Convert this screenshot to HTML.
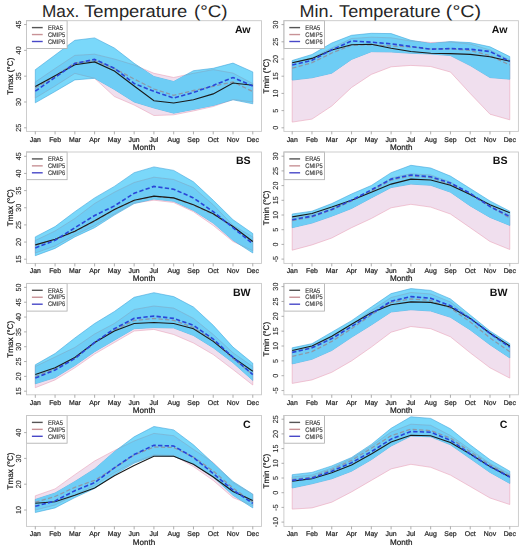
<!DOCTYPE html>
<html><head><meta charset="utf-8"><title>Temperature</title>
<style>
html,body{margin:0;padding:0;background:#fff;}
body{width:523px;height:550px;overflow:hidden;position:relative;}
svg{display:block;position:absolute;left:0;top:0;}
#m{filter:blur(0.35px);}
text{font-family:"Liberation Sans",sans-serif;text-rendering:geometricPrecision;}
.lg{font-size:6.6px;fill:#3a3a3a;stroke:#3a3a3a;stroke-width:0.15px;}
.rl{font-size:10.6px;font-weight:bold;fill:#111;}
.mo{font-size:6.9px;fill:#262626;stroke:#262626;stroke-width:0.22px;}
.ax{font-size:8.1px;fill:#161616;stroke:#161616;stroke-width:0.2px;}
.ax2{font-size:8.1px;fill:#161616;stroke:#161616;stroke-width:0.2px;}
.tk{font-size:7.3px;fill:#2a2a2a;stroke:#2a2a2a;stroke-width:0.1px;}
.ti{font-size:17px;fill:#262626;}
</style></head><body>
<svg id="m" width="523" height="550" viewBox="0 0 523 550">
<defs>
<clipPath id="p00b"><polygon points="35.3,69.7 55.07,55 74.84,40.3 94.61,37.9 114.38,48 134.15,63.3 153.92,76.5 173.69,81.5 193.46,70.7 213.23,68.3 233,63.1 252.77,71.9 252.77,103.8 233,99.8 213.23,105.4 193.46,109.4 173.69,113.2 153.92,108 134.15,102 114.38,89.5 94.61,78.3 74.84,79.9 55.07,91.5 35.3,102.8"/></clipPath>
<clipPath id="p00a"><rect x="26.5" y="20.7" width="235" height="110.7"/></clipPath>
<clipPath id="p01b"><polygon points="292.2,60.5 311.98,54.5 331.76,43 351.54,35.3 371.32,33.3 391.1,33.6 410.88,40.3 430.66,43.5 450.44,41.6 470.22,42.6 490,46.8 509.78,56.6 509.78,79.2 490,77.6 470.22,65.6 450.44,55.6 430.66,54 410.88,53.3 391.1,52 371.32,51.7 351.54,59.4 331.76,73.2 311.98,77.8 292.2,80.1"/></clipPath>
<clipPath id="p01a"><rect x="283.9" y="20.7" width="234.5" height="110.7"/></clipPath>
<clipPath id="p10b"><polygon points="35.3,236.9 55.07,226.6 74.84,211.7 94.61,197.9 114.38,186.4 134.15,172.7 153.92,166.9 173.69,170.4 193.46,181.8 213.23,200.2 233,219.7 252.77,233.5 252.77,253 233,240.3 213.23,223.1 193.46,210.5 173.69,201.3 153.92,199 134.15,203.6 114.38,215.1 94.61,227.7 74.84,236.9 55.07,248.4 35.3,255.7"/></clipPath>
<clipPath id="p10a"><rect x="26.5" y="152" width="235" height="111.4"/></clipPath>
<clipPath id="p11b"><polygon points="292.2,214 311.98,211.2 331.76,203.6 351.54,194 371.32,185.5 391.1,172.7 410.88,165.3 430.66,168 450.44,176.1 470.22,188.5 490,201 509.78,211.2 509.78,225.4 490,217.4 470.22,205.9 450.44,192.2 430.66,185.3 410.88,184.1 391.1,187.6 371.32,197.9 351.54,208.5 331.76,216.2 311.98,223.1 292.2,227.7"/></clipPath>
<clipPath id="p11a"><rect x="283.9" y="152" width="234.5" height="111.4"/></clipPath>
<clipPath id="p20b"><polygon points="35.3,364.8 55.07,353.5 74.84,338 94.61,323.5 114.38,311.5 134.15,297.3 153.92,292.7 173.69,296.6 193.46,307 213.23,325.3 233,347.1 252.77,363.2 252.77,380.4 233,362.7 213.23,347.8 193.46,335.5 173.69,328 153.92,327.6 134.15,328.7 114.38,340.2 94.61,351.7 74.84,365.5 55.07,377.6 35.3,383.8"/></clipPath>
<clipPath id="p20a"><rect x="26.5" y="283.4" width="235" height="111.4"/></clipPath>
<clipPath id="p21b"><polygon points="292.2,347.8 311.98,343.7 331.76,332.2 351.54,320.7 371.32,307 391.1,293.6 410.88,288.6 430.66,290.4 450.44,298.9 470.22,315 490,331 509.78,343.7 509.78,357.9 490,344.8 470.22,329.9 450.44,317.3 430.66,311 410.88,309.8 391.1,312 371.32,325 351.54,337.3 331.76,350.5 311.98,359.3 292.2,363.9"/></clipPath>
<clipPath id="p21a"><rect x="283.9" y="283.4" width="234.5" height="111.4"/></clipPath>
<clipPath id="p30b"><polygon points="35.3,499.4 55.07,493 74.84,481.5 94.61,468.9 114.38,451.7 134.15,436.8 153.92,426.5 173.69,429.9 193.46,444.8 213.23,463.2 233,481.5 252.77,494.2 252.77,507.9 233,495.3 213.23,477 193.46,464.3 173.69,456.3 153.92,455.8 134.15,463.2 114.38,474.7 94.61,488.4 74.84,497.6 55.07,507.9 35.3,512.5"/></clipPath>
<clipPath id="p30a"><rect x="26.5" y="415.5" width="235" height="110.9"/></clipPath>
<clipPath id="p31b"><polygon points="292.2,474.7 311.98,472.4 331.76,465.9 351.54,457.5 371.32,444.4 391.1,428.3 410.88,416.8 430.66,418.4 450.44,428.8 470.22,444.8 490,459.7 509.78,471.2 509.78,483.4 490,472.4 470.22,458.6 450.44,444.8 430.66,436.8 410.88,436.1 391.1,446 371.32,459.7 351.54,471.2 331.76,478.8 311.98,483.8 292.2,488"/></clipPath>
<clipPath id="p31a"><rect x="283.9" y="415.5" width="234.5" height="110.9"/></clipPath>
</defs>
<rect width="523" height="550" fill="#fff"/>
<g clip-path="url(#p00a)">
<polygon points="35.3,82 55.07,68.5 74.84,55.4 94.61,54.2 114.38,59 134.15,65 153.92,73.3 173.69,77.5 193.46,73.3 213.23,69.6 233,73.1 252.77,83.6 252.77,102 233,99.5 213.23,106.5 193.46,110.9 173.69,114.8 153.92,115.5 134.15,105 114.38,96.5 94.61,78.3 74.84,73.4 55.07,86 35.3,98" fill="#f0dfee" stroke="#eaa4ba" stroke-width="0.6"/>
<polygon points="35.3,69.7 55.07,55 74.84,40.3 94.61,37.9 114.38,48 134.15,63.3 153.92,76.5 173.69,81.5 193.46,70.7 213.23,68.3 233,63.1 252.77,71.9 252.77,103.8 233,99.8 213.23,105.4 193.46,109.4 173.69,113.2 153.92,108 134.15,102 114.38,89.5 94.61,78.3 74.84,79.9 55.07,91.5 35.3,102.8" fill="#7ad8fa" stroke="#45a6dc" stroke-width="0.6"/>
<polygon points="35.3,82 55.07,68.5 74.84,55.4 94.61,54.2 114.38,59 134.15,65 153.92,73.3 173.69,77.5 193.46,73.3 213.23,69.6 233,73.1 252.77,83.6 252.77,102 233,99.5 213.23,106.5 193.46,110.9 173.69,114.8 153.92,115.5 134.15,105 114.38,96.5 94.61,78.3 74.84,73.4 55.07,86 35.3,98" fill="#6ecdf5" stroke="#80aac6" stroke-width="0.6" clip-path="url(#p00b)"/>
<polyline points="35.3,88 55.07,76 74.84,63 94.61,60.5 114.38,68.5 134.15,79 153.92,89 173.69,95.4 193.46,90.5 213.23,86.3 233,81.9 252.77,91.6" fill="none" stroke="#8c98a8" stroke-width="1.3" stroke-dasharray="4.3 2.3"/>
<polyline points="35.3,86.4 55.07,75.8 74.84,64.8 94.61,61.9 114.38,71 134.15,86 153.92,100.7 173.69,103 193.46,99.7 213.23,93.9 233,83 252.77,85.3" fill="none" stroke="#1a1a1a" stroke-width="1.1"/>
<polyline points="35.3,91.2 55.07,77.4 74.84,63.5 94.61,59.4 114.38,68.2 134.15,83.5 153.92,91.4 173.69,98 193.46,92.5 213.23,85.4 233,77.5 252.77,86" fill="none" stroke="#2a46d8" stroke-width="1.6" stroke-dasharray="4.3 2.3"/>
</g>
<rect x="26.5" y="20.7" width="40.6" height="27.7" fill="#fff" stroke="#ababab" stroke-width="0.8"/>
<line x1="31.9" y1="27.6" x2="42.7" y2="27.6" stroke="#555" stroke-width="1.4"/>
<text x="47.9" y="29.8" class="lg" textLength="15.0" lengthAdjust="spacingAndGlyphs">ERA5</text>
<line x1="31.9" y1="34.55" x2="42.7" y2="34.55" stroke="#c89296" stroke-width="1.4"/>
<text x="47.9" y="36.75" class="lg" textLength="17.3" lengthAdjust="spacingAndGlyphs">CMIP5</text>
<line x1="31.9" y1="41.5" x2="42.7" y2="41.5" stroke="#4848c8" stroke-width="1.4"/>
<text x="47.9" y="43.7" class="lg" textLength="17.3" lengthAdjust="spacingAndGlyphs">CMIP6</text>
<rect x="26.5" y="20.7" width="235" height="110.7" fill="none" stroke="#c8c8c8" stroke-width="0.9"/>
<text x="250.6" y="32.8" class="rl" text-anchor="end">Aw</text>
<line x1="35.3" y1="131.4" x2="35.3" y2="134.4" stroke="#999999" stroke-width="0.8"/>
<text x="35.3" y="141.7" class="mo" text-anchor="middle">Jan</text>
<line x1="55.07" y1="131.4" x2="55.07" y2="134.4" stroke="#999999" stroke-width="0.8"/>
<text x="55.07" y="141.7" class="mo" text-anchor="middle">Feb</text>
<line x1="74.84" y1="131.4" x2="74.84" y2="134.4" stroke="#999999" stroke-width="0.8"/>
<text x="74.84" y="141.7" class="mo" text-anchor="middle">Mar</text>
<line x1="94.61" y1="131.4" x2="94.61" y2="134.4" stroke="#999999" stroke-width="0.8"/>
<text x="94.61" y="141.7" class="mo" text-anchor="middle">Apr</text>
<line x1="114.38" y1="131.4" x2="114.38" y2="134.4" stroke="#999999" stroke-width="0.8"/>
<text x="114.38" y="141.7" class="mo" text-anchor="middle">May</text>
<line x1="134.15" y1="131.4" x2="134.15" y2="134.4" stroke="#999999" stroke-width="0.8"/>
<text x="134.15" y="141.7" class="mo" text-anchor="middle">Jun</text>
<line x1="153.92" y1="131.4" x2="153.92" y2="134.4" stroke="#999999" stroke-width="0.8"/>
<text x="153.92" y="141.7" class="mo" text-anchor="middle">Jul</text>
<line x1="173.69" y1="131.4" x2="173.69" y2="134.4" stroke="#999999" stroke-width="0.8"/>
<text x="173.69" y="141.7" class="mo" text-anchor="middle">Aug</text>
<line x1="193.46" y1="131.4" x2="193.46" y2="134.4" stroke="#999999" stroke-width="0.8"/>
<text x="193.46" y="141.7" class="mo" text-anchor="middle">Sep</text>
<line x1="213.23" y1="131.4" x2="213.23" y2="134.4" stroke="#999999" stroke-width="0.8"/>
<text x="213.23" y="141.7" class="mo" text-anchor="middle">Oct</text>
<line x1="233" y1="131.4" x2="233" y2="134.4" stroke="#999999" stroke-width="0.8"/>
<text x="233" y="141.7" class="mo" text-anchor="middle">Nov</text>
<line x1="252.77" y1="131.4" x2="252.77" y2="134.4" stroke="#999999" stroke-width="0.8"/>
<text x="252.77" y="141.7" class="mo" text-anchor="middle">Dec</text>
<text x="144" y="149.6" class="ax" text-anchor="middle">Month</text>
<line x1="24.1" y1="127.8" x2="26.5" y2="127.8" stroke="#999999" stroke-width="0.8"/>
<text transform="translate(20.7,127.8) rotate(-90)" class="tk" text-anchor="middle">25</text>
<line x1="24.1" y1="101.99" x2="26.5" y2="101.99" stroke="#999999" stroke-width="0.8"/>
<text transform="translate(20.7,101.99) rotate(-90)" class="tk" text-anchor="middle">30</text>
<line x1="24.1" y1="76.17" x2="26.5" y2="76.17" stroke="#999999" stroke-width="0.8"/>
<text transform="translate(20.7,76.17) rotate(-90)" class="tk" text-anchor="middle">35</text>
<line x1="24.1" y1="50.36" x2="26.5" y2="50.36" stroke="#999999" stroke-width="0.8"/>
<text transform="translate(20.7,50.36) rotate(-90)" class="tk" text-anchor="middle">40</text>
<line x1="24.1" y1="24.55" x2="26.5" y2="24.55" stroke="#999999" stroke-width="0.8"/>
<text transform="translate(20.7,24.55) rotate(-90)" class="tk" text-anchor="middle">45</text>
<text transform="translate(12.6,76.15) rotate(-90)" class="ax2" text-anchor="middle">Tmax (°C)</text>
<g clip-path="url(#p01a)">
<polygon points="292.2,63 311.98,58 331.76,48 351.54,38.5 371.32,37.2 391.1,37.8 410.88,41 430.66,42.5 450.44,42 470.22,44 490,50 509.78,60 509.78,119.8 490,114.2 470.22,93.5 450.44,72 430.66,66.5 410.88,65.4 391.1,66.8 371.32,74.4 351.54,87.5 331.76,106 311.98,119.1 292.2,122.1" fill="#f0dfee" stroke="#eaa4ba" stroke-width="0.6"/>
<polygon points="292.2,60.5 311.98,54.5 331.76,43 351.54,35.3 371.32,33.3 391.1,33.6 410.88,40.3 430.66,43.5 450.44,41.6 470.22,42.6 490,46.8 509.78,56.6 509.78,79.2 490,77.6 470.22,65.6 450.44,55.6 430.66,54 410.88,53.3 391.1,52 371.32,51.7 351.54,59.4 331.76,73.2 311.98,77.8 292.2,80.1" fill="#7ad8fa" stroke="#45a6dc" stroke-width="0.6"/>
<polygon points="292.2,63 311.98,58 331.76,48 351.54,38.5 371.32,37.2 391.1,37.8 410.88,41 430.66,42.5 450.44,42 470.22,44 490,50 509.78,60 509.78,119.8 490,114.2 470.22,93.5 450.44,72 430.66,66.5 410.88,65.4 391.1,66.8 371.32,74.4 351.54,87.5 331.76,106 311.98,119.1 292.2,122.1" fill="#6ecdf5" stroke="#80aac6" stroke-width="0.6" clip-path="url(#p01b)"/>
<polyline points="292.2,68.2 311.98,62.7 331.76,53 351.54,45.2 371.32,44.8 391.1,46 410.88,47 430.66,49 450.44,48.7 470.22,50.5 490,55.6 509.78,65" fill="none" stroke="#8c98a8" stroke-width="1.3" stroke-dasharray="4.3 2.3"/>
<polyline points="292.2,62.7 311.98,58.4 331.76,50 351.54,44.7 371.32,44.3 391.1,48.3 410.88,51.5 430.66,53.3 450.44,53.6 470.22,54.4 490,56.7 509.78,61.3" fill="none" stroke="#1a1a1a" stroke-width="1.1"/>
<polyline points="292.2,65 311.98,60.3 331.76,49.8 351.54,40.9 371.32,42.2 391.1,43.8 410.88,46.5 430.66,49.2 450.44,48.6 470.22,49.2 490,51.5 509.78,61.3" fill="none" stroke="#2a46d8" stroke-width="1.6" stroke-dasharray="4.3 2.3"/>
</g>
<rect x="283.9" y="20.7" width="40.6" height="27.7" fill="#fff" stroke="#ababab" stroke-width="0.8"/>
<line x1="289.3" y1="27.6" x2="300.1" y2="27.6" stroke="#555" stroke-width="1.4"/>
<text x="305.3" y="29.8" class="lg" textLength="15.0" lengthAdjust="spacingAndGlyphs">ERA5</text>
<line x1="289.3" y1="34.55" x2="300.1" y2="34.55" stroke="#c89296" stroke-width="1.4"/>
<text x="305.3" y="36.75" class="lg" textLength="17.3" lengthAdjust="spacingAndGlyphs">CMIP5</text>
<line x1="289.3" y1="41.5" x2="300.1" y2="41.5" stroke="#4848c8" stroke-width="1.4"/>
<text x="305.3" y="43.7" class="lg" textLength="17.3" lengthAdjust="spacingAndGlyphs">CMIP6</text>
<rect x="283.9" y="20.7" width="234.5" height="110.7" fill="none" stroke="#c8c8c8" stroke-width="0.9"/>
<text x="507.5" y="32.8" class="rl" text-anchor="end">Aw</text>
<line x1="292.2" y1="131.4" x2="292.2" y2="134.4" stroke="#999999" stroke-width="0.8"/>
<text x="292.2" y="141.7" class="mo" text-anchor="middle">Jan</text>
<line x1="311.98" y1="131.4" x2="311.98" y2="134.4" stroke="#999999" stroke-width="0.8"/>
<text x="311.98" y="141.7" class="mo" text-anchor="middle">Feb</text>
<line x1="331.76" y1="131.4" x2="331.76" y2="134.4" stroke="#999999" stroke-width="0.8"/>
<text x="331.76" y="141.7" class="mo" text-anchor="middle">Mar</text>
<line x1="351.54" y1="131.4" x2="351.54" y2="134.4" stroke="#999999" stroke-width="0.8"/>
<text x="351.54" y="141.7" class="mo" text-anchor="middle">Apr</text>
<line x1="371.32" y1="131.4" x2="371.32" y2="134.4" stroke="#999999" stroke-width="0.8"/>
<text x="371.32" y="141.7" class="mo" text-anchor="middle">May</text>
<line x1="391.1" y1="131.4" x2="391.1" y2="134.4" stroke="#999999" stroke-width="0.8"/>
<text x="391.1" y="141.7" class="mo" text-anchor="middle">Jun</text>
<line x1="410.88" y1="131.4" x2="410.88" y2="134.4" stroke="#999999" stroke-width="0.8"/>
<text x="410.88" y="141.7" class="mo" text-anchor="middle">Jul</text>
<line x1="430.66" y1="131.4" x2="430.66" y2="134.4" stroke="#999999" stroke-width="0.8"/>
<text x="430.66" y="141.7" class="mo" text-anchor="middle">Aug</text>
<line x1="450.44" y1="131.4" x2="450.44" y2="134.4" stroke="#999999" stroke-width="0.8"/>
<text x="450.44" y="141.7" class="mo" text-anchor="middle">Sep</text>
<line x1="470.22" y1="131.4" x2="470.22" y2="134.4" stroke="#999999" stroke-width="0.8"/>
<text x="470.22" y="141.7" class="mo" text-anchor="middle">Oct</text>
<line x1="490" y1="131.4" x2="490" y2="134.4" stroke="#999999" stroke-width="0.8"/>
<text x="490" y="141.7" class="mo" text-anchor="middle">Nov</text>
<line x1="509.78" y1="131.4" x2="509.78" y2="134.4" stroke="#999999" stroke-width="0.8"/>
<text x="509.78" y="141.7" class="mo" text-anchor="middle">Dec</text>
<text x="401.15" y="149.6" class="ax" text-anchor="middle">Month</text>
<line x1="281.5" y1="127.8" x2="283.9" y2="127.8" stroke="#999999" stroke-width="0.8"/>
<text transform="translate(278.1,127.8) rotate(-90)" class="tk" text-anchor="middle">0</text>
<line x1="281.5" y1="110.6" x2="283.9" y2="110.6" stroke="#999999" stroke-width="0.8"/>
<text transform="translate(278.1,110.6) rotate(-90)" class="tk" text-anchor="middle">5</text>
<line x1="281.5" y1="93.4" x2="283.9" y2="93.4" stroke="#999999" stroke-width="0.8"/>
<text transform="translate(278.1,93.4) rotate(-90)" class="tk" text-anchor="middle">10</text>
<line x1="281.5" y1="76.2" x2="283.9" y2="76.2" stroke="#999999" stroke-width="0.8"/>
<text transform="translate(278.1,76.2) rotate(-90)" class="tk" text-anchor="middle">15</text>
<line x1="281.5" y1="59" x2="283.9" y2="59" stroke="#999999" stroke-width="0.8"/>
<text transform="translate(278.1,59) rotate(-90)" class="tk" text-anchor="middle">20</text>
<line x1="281.5" y1="41.8" x2="283.9" y2="41.8" stroke="#999999" stroke-width="0.8"/>
<text transform="translate(278.1,41.8) rotate(-90)" class="tk" text-anchor="middle">25</text>
<line x1="281.5" y1="24.6" x2="283.9" y2="24.6" stroke="#999999" stroke-width="0.8"/>
<text transform="translate(278.1,24.6) rotate(-90)" class="tk" text-anchor="middle">30</text>
<text transform="translate(269.1,76.15) rotate(-90)" class="ax2" text-anchor="middle">Tmin (°C)</text>
<g clip-path="url(#p10a)">
<polygon points="35.3,240.5 55.07,231 74.84,218.5 94.61,203.5 114.38,192.2 134.15,182.5 153.92,177.2 173.69,179.5 193.46,187.6 213.23,204.8 233,225.4 252.77,236.9 252.77,250.7 233,241.5 213.23,225.4 193.46,211.7 173.69,202.5 153.92,200.2 134.15,203 114.38,214 94.61,225.5 74.84,235 55.07,246 35.3,253" fill="#f0dfee" stroke="#eaa4ba" stroke-width="0.6"/>
<polygon points="35.3,236.9 55.07,226.6 74.84,211.7 94.61,197.9 114.38,186.4 134.15,172.7 153.92,166.9 173.69,170.4 193.46,181.8 213.23,200.2 233,219.7 252.77,233.5 252.77,253 233,240.3 213.23,223.1 193.46,210.5 173.69,201.3 153.92,199 134.15,203.6 114.38,215.1 94.61,227.7 74.84,236.9 55.07,248.4 35.3,255.7" fill="#7ad8fa" stroke="#45a6dc" stroke-width="0.6"/>
<polygon points="35.3,240.5 55.07,231 74.84,218.5 94.61,203.5 114.38,192.2 134.15,182.5 153.92,177.2 173.69,179.5 193.46,187.6 213.23,204.8 233,225.4 252.77,236.9 252.77,250.7 233,241.5 213.23,225.4 193.46,211.7 173.69,202.5 153.92,200.2 134.15,203 114.38,214 94.61,225.5 74.84,235 55.07,246 35.3,253" fill="#6ecdf5" stroke="#80aac6" stroke-width="0.6" clip-path="url(#p10b)"/>
<polyline points="35.3,245.2 55.07,239.5 74.84,231.5 94.61,221.1 114.38,209.7 134.15,200.5 153.92,196.4 173.69,198.2 193.46,205.1 213.23,214.1 233,226.8 252.77,241.8" fill="none" stroke="#8c98a8" stroke-width="1.3" stroke-dasharray="4.3 2.3"/>
<polyline points="35.3,244.9 55.07,239.2 74.84,231.2 94.61,220.8 114.38,209.4 134.15,200.2 153.92,196.1 173.69,197.9 193.46,204.8 213.23,213.8 233,226.5 252.77,241.5" fill="none" stroke="#1a1a1a" stroke-width="1.1"/>
<polyline points="35.3,247.9 55.07,240.3 74.84,227.8 94.61,215.5 114.38,205.9 134.15,193.3 153.92,186.4 173.69,189.2 193.46,197.9 213.23,211.7 233,227.7 252.77,243.8" fill="none" stroke="#2a46d8" stroke-width="1.6" stroke-dasharray="4.3 2.3"/>
</g>
<rect x="26.5" y="152" width="40.6" height="27.7" fill="#fff" stroke="#ababab" stroke-width="0.8"/>
<line x1="31.9" y1="158.9" x2="42.7" y2="158.9" stroke="#555" stroke-width="1.4"/>
<text x="47.9" y="161.1" class="lg" textLength="15.0" lengthAdjust="spacingAndGlyphs">ERA5</text>
<line x1="31.9" y1="165.85" x2="42.7" y2="165.85" stroke="#c89296" stroke-width="1.4"/>
<text x="47.9" y="168.05" class="lg" textLength="17.3" lengthAdjust="spacingAndGlyphs">CMIP5</text>
<line x1="31.9" y1="172.8" x2="42.7" y2="172.8" stroke="#4848c8" stroke-width="1.4"/>
<text x="47.9" y="175" class="lg" textLength="17.3" lengthAdjust="spacingAndGlyphs">CMIP6</text>
<rect x="26.5" y="152" width="235" height="111.4" fill="none" stroke="#c8c8c8" stroke-width="0.9"/>
<text x="250.6" y="164.1" class="rl" text-anchor="end">BS</text>
<line x1="35.3" y1="263.4" x2="35.3" y2="266.4" stroke="#999999" stroke-width="0.8"/>
<text x="35.3" y="272.9" class="mo" text-anchor="middle">Jan</text>
<line x1="55.07" y1="263.4" x2="55.07" y2="266.4" stroke="#999999" stroke-width="0.8"/>
<text x="55.07" y="272.9" class="mo" text-anchor="middle">Feb</text>
<line x1="74.84" y1="263.4" x2="74.84" y2="266.4" stroke="#999999" stroke-width="0.8"/>
<text x="74.84" y="272.9" class="mo" text-anchor="middle">Mar</text>
<line x1="94.61" y1="263.4" x2="94.61" y2="266.4" stroke="#999999" stroke-width="0.8"/>
<text x="94.61" y="272.9" class="mo" text-anchor="middle">Apr</text>
<line x1="114.38" y1="263.4" x2="114.38" y2="266.4" stroke="#999999" stroke-width="0.8"/>
<text x="114.38" y="272.9" class="mo" text-anchor="middle">May</text>
<line x1="134.15" y1="263.4" x2="134.15" y2="266.4" stroke="#999999" stroke-width="0.8"/>
<text x="134.15" y="272.9" class="mo" text-anchor="middle">Jun</text>
<line x1="153.92" y1="263.4" x2="153.92" y2="266.4" stroke="#999999" stroke-width="0.8"/>
<text x="153.92" y="272.9" class="mo" text-anchor="middle">Jul</text>
<line x1="173.69" y1="263.4" x2="173.69" y2="266.4" stroke="#999999" stroke-width="0.8"/>
<text x="173.69" y="272.9" class="mo" text-anchor="middle">Aug</text>
<line x1="193.46" y1="263.4" x2="193.46" y2="266.4" stroke="#999999" stroke-width="0.8"/>
<text x="193.46" y="272.9" class="mo" text-anchor="middle">Sep</text>
<line x1="213.23" y1="263.4" x2="213.23" y2="266.4" stroke="#999999" stroke-width="0.8"/>
<text x="213.23" y="272.9" class="mo" text-anchor="middle">Oct</text>
<line x1="233" y1="263.4" x2="233" y2="266.4" stroke="#999999" stroke-width="0.8"/>
<text x="233" y="272.9" class="mo" text-anchor="middle">Nov</text>
<line x1="252.77" y1="263.4" x2="252.77" y2="266.4" stroke="#999999" stroke-width="0.8"/>
<text x="252.77" y="272.9" class="mo" text-anchor="middle">Dec</text>
<text x="144" y="280.9" class="ax" text-anchor="middle">Month</text>
<line x1="24.1" y1="259.2" x2="26.5" y2="259.2" stroke="#999999" stroke-width="0.8"/>
<text transform="translate(20.7,259.2) rotate(-90)" class="tk" text-anchor="middle">15</text>
<line x1="24.1" y1="242.05" x2="26.5" y2="242.05" stroke="#999999" stroke-width="0.8"/>
<text transform="translate(20.7,242.05) rotate(-90)" class="tk" text-anchor="middle">20</text>
<line x1="24.1" y1="224.9" x2="26.5" y2="224.9" stroke="#999999" stroke-width="0.8"/>
<text transform="translate(20.7,224.9) rotate(-90)" class="tk" text-anchor="middle">25</text>
<line x1="24.1" y1="207.75" x2="26.5" y2="207.75" stroke="#999999" stroke-width="0.8"/>
<text transform="translate(20.7,207.75) rotate(-90)" class="tk" text-anchor="middle">30</text>
<line x1="24.1" y1="190.6" x2="26.5" y2="190.6" stroke="#999999" stroke-width="0.8"/>
<text transform="translate(20.7,190.6) rotate(-90)" class="tk" text-anchor="middle">35</text>
<line x1="24.1" y1="173.45" x2="26.5" y2="173.45" stroke="#999999" stroke-width="0.8"/>
<text transform="translate(20.7,173.45) rotate(-90)" class="tk" text-anchor="middle">40</text>
<line x1="24.1" y1="156.3" x2="26.5" y2="156.3" stroke="#999999" stroke-width="0.8"/>
<text transform="translate(20.7,156.3) rotate(-90)" class="tk" text-anchor="middle">45</text>
<text transform="translate(12.6,207.8) rotate(-90)" class="ax2" text-anchor="middle">Tmax (°C)</text>
<g clip-path="url(#p11a)">
<polygon points="292.2,218.5 311.98,215 331.76,208.5 351.54,200.5 371.32,190.5 391.1,178 410.88,173.8 430.66,175 450.44,182 470.22,194 490,206 509.78,215 509.78,249.5 490,241.5 470.22,227.7 450.44,214 430.66,207.1 410.88,204.3 391.1,207.8 371.32,218.5 351.54,227.7 331.76,238 311.98,244.9 292.2,250.2" fill="#f0dfee" stroke="#eaa4ba" stroke-width="0.6"/>
<polygon points="292.2,214 311.98,211.2 331.76,203.6 351.54,194 371.32,185.5 391.1,172.7 410.88,165.3 430.66,168 450.44,176.1 470.22,188.5 490,201 509.78,211.2 509.78,225.4 490,217.4 470.22,205.9 450.44,192.2 430.66,185.3 410.88,184.1 391.1,187.6 371.32,197.9 351.54,208.5 331.76,216.2 311.98,223.1 292.2,227.7" fill="#7ad8fa" stroke="#45a6dc" stroke-width="0.6"/>
<polygon points="292.2,218.5 311.98,215 331.76,208.5 351.54,200.5 371.32,190.5 391.1,178 410.88,173.8 430.66,175 450.44,182 470.22,194 490,206 509.78,215 509.78,249.5 490,241.5 470.22,227.7 450.44,214 430.66,207.1 410.88,204.3 391.1,207.8 371.32,218.5 351.54,227.7 331.76,238 311.98,244.9 292.2,250.2" fill="#6ecdf5" stroke="#80aac6" stroke-width="0.6" clip-path="url(#p11b)"/>
<polyline points="292.2,220.5 311.98,217 331.76,210 351.54,201 371.32,191 391.1,180 410.88,176 430.66,177.5 450.44,184.5 470.22,194.5 490,206.5 509.78,218" fill="none" stroke="#8c98a8" stroke-width="1.3" stroke-dasharray="4.3 2.3"/>
<polyline points="292.2,216.9 311.98,213.5 331.76,207.1 351.54,200.2 371.32,192.2 391.1,184.1 410.88,179.1 430.66,180 450.44,185.3 470.22,194.5 490,204.8 509.78,212.8" fill="none" stroke="#1a1a1a" stroke-width="1.1"/>
<polyline points="292.2,219.7 311.98,216.2 331.76,209.4 351.54,200.2 371.32,189.9 391.1,179.1 410.88,175 430.66,176.8 450.44,183 470.22,193.3 490,206.5 509.78,216.5" fill="none" stroke="#2a46d8" stroke-width="1.6" stroke-dasharray="4.3 2.3"/>
</g>
<rect x="283.9" y="152" width="40.6" height="27.7" fill="#fff" stroke="#ababab" stroke-width="0.8"/>
<line x1="289.3" y1="158.9" x2="300.1" y2="158.9" stroke="#555" stroke-width="1.4"/>
<text x="305.3" y="161.1" class="lg" textLength="15.0" lengthAdjust="spacingAndGlyphs">ERA5</text>
<line x1="289.3" y1="165.85" x2="300.1" y2="165.85" stroke="#c89296" stroke-width="1.4"/>
<text x="305.3" y="168.05" class="lg" textLength="17.3" lengthAdjust="spacingAndGlyphs">CMIP5</text>
<line x1="289.3" y1="172.8" x2="300.1" y2="172.8" stroke="#4848c8" stroke-width="1.4"/>
<text x="305.3" y="175" class="lg" textLength="17.3" lengthAdjust="spacingAndGlyphs">CMIP6</text>
<rect x="283.9" y="152" width="234.5" height="111.4" fill="none" stroke="#c8c8c8" stroke-width="0.9"/>
<text x="507.5" y="164.1" class="rl" text-anchor="end">BS</text>
<line x1="292.2" y1="263.4" x2="292.2" y2="266.4" stroke="#999999" stroke-width="0.8"/>
<text x="292.2" y="272.9" class="mo" text-anchor="middle">Jan</text>
<line x1="311.98" y1="263.4" x2="311.98" y2="266.4" stroke="#999999" stroke-width="0.8"/>
<text x="311.98" y="272.9" class="mo" text-anchor="middle">Feb</text>
<line x1="331.76" y1="263.4" x2="331.76" y2="266.4" stroke="#999999" stroke-width="0.8"/>
<text x="331.76" y="272.9" class="mo" text-anchor="middle">Mar</text>
<line x1="351.54" y1="263.4" x2="351.54" y2="266.4" stroke="#999999" stroke-width="0.8"/>
<text x="351.54" y="272.9" class="mo" text-anchor="middle">Apr</text>
<line x1="371.32" y1="263.4" x2="371.32" y2="266.4" stroke="#999999" stroke-width="0.8"/>
<text x="371.32" y="272.9" class="mo" text-anchor="middle">May</text>
<line x1="391.1" y1="263.4" x2="391.1" y2="266.4" stroke="#999999" stroke-width="0.8"/>
<text x="391.1" y="272.9" class="mo" text-anchor="middle">Jun</text>
<line x1="410.88" y1="263.4" x2="410.88" y2="266.4" stroke="#999999" stroke-width="0.8"/>
<text x="410.88" y="272.9" class="mo" text-anchor="middle">Jul</text>
<line x1="430.66" y1="263.4" x2="430.66" y2="266.4" stroke="#999999" stroke-width="0.8"/>
<text x="430.66" y="272.9" class="mo" text-anchor="middle">Aug</text>
<line x1="450.44" y1="263.4" x2="450.44" y2="266.4" stroke="#999999" stroke-width="0.8"/>
<text x="450.44" y="272.9" class="mo" text-anchor="middle">Sep</text>
<line x1="470.22" y1="263.4" x2="470.22" y2="266.4" stroke="#999999" stroke-width="0.8"/>
<text x="470.22" y="272.9" class="mo" text-anchor="middle">Oct</text>
<line x1="490" y1="263.4" x2="490" y2="266.4" stroke="#999999" stroke-width="0.8"/>
<text x="490" y="272.9" class="mo" text-anchor="middle">Nov</text>
<line x1="509.78" y1="263.4" x2="509.78" y2="266.4" stroke="#999999" stroke-width="0.8"/>
<text x="509.78" y="272.9" class="mo" text-anchor="middle">Dec</text>
<text x="401.15" y="280.9" class="ax" text-anchor="middle">Month</text>
<line x1="281.5" y1="259.1" x2="283.9" y2="259.1" stroke="#999999" stroke-width="0.8"/>
<text transform="translate(278.1,259.1) rotate(-90)" class="tk" text-anchor="middle">-5</text>
<line x1="281.5" y1="244.4" x2="283.9" y2="244.4" stroke="#999999" stroke-width="0.8"/>
<text transform="translate(278.1,244.4) rotate(-90)" class="tk" text-anchor="middle">0</text>
<line x1="281.5" y1="229.7" x2="283.9" y2="229.7" stroke="#999999" stroke-width="0.8"/>
<text transform="translate(278.1,229.7) rotate(-90)" class="tk" text-anchor="middle">5</text>
<line x1="281.5" y1="215" x2="283.9" y2="215" stroke="#999999" stroke-width="0.8"/>
<text transform="translate(278.1,215) rotate(-90)" class="tk" text-anchor="middle">10</text>
<line x1="281.5" y1="200.3" x2="283.9" y2="200.3" stroke="#999999" stroke-width="0.8"/>
<text transform="translate(278.1,200.3) rotate(-90)" class="tk" text-anchor="middle">15</text>
<line x1="281.5" y1="185.6" x2="283.9" y2="185.6" stroke="#999999" stroke-width="0.8"/>
<text transform="translate(278.1,185.6) rotate(-90)" class="tk" text-anchor="middle">20</text>
<line x1="281.5" y1="170.9" x2="283.9" y2="170.9" stroke="#999999" stroke-width="0.8"/>
<text transform="translate(278.1,170.9) rotate(-90)" class="tk" text-anchor="middle">25</text>
<line x1="281.5" y1="156.2" x2="283.9" y2="156.2" stroke="#999999" stroke-width="0.8"/>
<text transform="translate(278.1,156.2) rotate(-90)" class="tk" text-anchor="middle">30</text>
<text transform="translate(269.1,207.8) rotate(-90)" class="ax2" text-anchor="middle">Tmin (°C)</text>
<g clip-path="url(#p20a)">
<polygon points="35.3,366.5 55.07,357 74.84,347.5 94.61,334 114.38,323.5 134.15,309.5 153.92,306 173.69,308.1 193.46,318.4 213.23,334.5 233,352.8 252.77,366.6 252.77,385 233,369.5 213.23,354.5 193.46,343 173.69,334.5 153.92,329.4 134.15,331 114.38,342.5 94.61,354 74.84,367.8 55.07,379.9 35.3,387.7" fill="#f0dfee" stroke="#eaa4ba" stroke-width="0.6"/>
<polygon points="35.3,364.8 55.07,353.5 74.84,338 94.61,323.5 114.38,311.5 134.15,297.3 153.92,292.7 173.69,296.6 193.46,307 213.23,325.3 233,347.1 252.77,363.2 252.77,380.4 233,362.7 213.23,347.8 193.46,335.5 173.69,328 153.92,327.6 134.15,328.7 114.38,340.2 94.61,351.7 74.84,365.5 55.07,377.6 35.3,383.8" fill="#7ad8fa" stroke="#45a6dc" stroke-width="0.6"/>
<polygon points="35.3,366.5 55.07,357 74.84,347.5 94.61,334 114.38,323.5 134.15,309.5 153.92,306 173.69,308.1 193.46,318.4 213.23,334.5 233,352.8 252.77,366.6 252.77,385 233,369.5 213.23,354.5 193.46,343 173.69,334.5 153.92,329.4 134.15,331 114.38,342.5 94.61,354 74.84,367.8 55.07,379.9 35.3,387.7" fill="#6ecdf5" stroke="#80aac6" stroke-width="0.6" clip-path="url(#p20b)"/>
<polyline points="35.3,376.5 55.07,369 74.84,357.5 94.61,343 114.38,330 134.15,320.5 153.92,318.5 173.69,320.3 193.46,327.5 213.23,340.5 233,358.5 252.77,374.6" fill="none" stroke="#8c98a8" stroke-width="1.3" stroke-dasharray="4.3 2.3"/>
<polyline points="35.3,374.6 55.07,367.8 74.84,357.5 94.61,342.5 114.38,331 134.15,323.5 153.92,322.5 173.69,323.5 193.46,328.7 213.23,341.4 233,357.4 252.77,371.2" fill="none" stroke="#1a1a1a" stroke-width="1.1"/>
<polyline points="35.3,378.1 55.07,370 74.84,358.5 94.61,342.5 114.38,328.7 134.15,318.4 153.92,316.1 173.69,318.4 193.46,325.3 213.23,339.1 233,357.4 252.77,374.6" fill="none" stroke="#2a46d8" stroke-width="1.6" stroke-dasharray="4.3 2.3"/>
</g>
<rect x="26.5" y="283.4" width="40.6" height="27.7" fill="#fff" stroke="#ababab" stroke-width="0.8"/>
<line x1="31.9" y1="290.3" x2="42.7" y2="290.3" stroke="#555" stroke-width="1.4"/>
<text x="47.9" y="292.5" class="lg" textLength="15.0" lengthAdjust="spacingAndGlyphs">ERA5</text>
<line x1="31.9" y1="297.25" x2="42.7" y2="297.25" stroke="#c89296" stroke-width="1.4"/>
<text x="47.9" y="299.45" class="lg" textLength="17.3" lengthAdjust="spacingAndGlyphs">CMIP5</text>
<line x1="31.9" y1="304.2" x2="42.7" y2="304.2" stroke="#4848c8" stroke-width="1.4"/>
<text x="47.9" y="306.4" class="lg" textLength="17.3" lengthAdjust="spacingAndGlyphs">CMIP6</text>
<rect x="26.5" y="283.4" width="235" height="111.4" fill="none" stroke="#c8c8c8" stroke-width="0.9"/>
<text x="250.6" y="295.5" class="rl" text-anchor="end">BW</text>
<line x1="35.3" y1="394.8" x2="35.3" y2="397.8" stroke="#999999" stroke-width="0.8"/>
<text x="35.3" y="404.7" class="mo" text-anchor="middle">Jan</text>
<line x1="55.07" y1="394.8" x2="55.07" y2="397.8" stroke="#999999" stroke-width="0.8"/>
<text x="55.07" y="404.7" class="mo" text-anchor="middle">Feb</text>
<line x1="74.84" y1="394.8" x2="74.84" y2="397.8" stroke="#999999" stroke-width="0.8"/>
<text x="74.84" y="404.7" class="mo" text-anchor="middle">Mar</text>
<line x1="94.61" y1="394.8" x2="94.61" y2="397.8" stroke="#999999" stroke-width="0.8"/>
<text x="94.61" y="404.7" class="mo" text-anchor="middle">Apr</text>
<line x1="114.38" y1="394.8" x2="114.38" y2="397.8" stroke="#999999" stroke-width="0.8"/>
<text x="114.38" y="404.7" class="mo" text-anchor="middle">May</text>
<line x1="134.15" y1="394.8" x2="134.15" y2="397.8" stroke="#999999" stroke-width="0.8"/>
<text x="134.15" y="404.7" class="mo" text-anchor="middle">Jun</text>
<line x1="153.92" y1="394.8" x2="153.92" y2="397.8" stroke="#999999" stroke-width="0.8"/>
<text x="153.92" y="404.7" class="mo" text-anchor="middle">Jul</text>
<line x1="173.69" y1="394.8" x2="173.69" y2="397.8" stroke="#999999" stroke-width="0.8"/>
<text x="173.69" y="404.7" class="mo" text-anchor="middle">Aug</text>
<line x1="193.46" y1="394.8" x2="193.46" y2="397.8" stroke="#999999" stroke-width="0.8"/>
<text x="193.46" y="404.7" class="mo" text-anchor="middle">Sep</text>
<line x1="213.23" y1="394.8" x2="213.23" y2="397.8" stroke="#999999" stroke-width="0.8"/>
<text x="213.23" y="404.7" class="mo" text-anchor="middle">Oct</text>
<line x1="233" y1="394.8" x2="233" y2="397.8" stroke="#999999" stroke-width="0.8"/>
<text x="233" y="404.7" class="mo" text-anchor="middle">Nov</text>
<line x1="252.77" y1="394.8" x2="252.77" y2="397.8" stroke="#999999" stroke-width="0.8"/>
<text x="252.77" y="404.7" class="mo" text-anchor="middle">Dec</text>
<text x="144" y="412.9" class="ax" text-anchor="middle">Month</text>
<line x1="24.1" y1="391.2" x2="26.5" y2="391.2" stroke="#999999" stroke-width="0.8"/>
<text transform="translate(20.7,391.2) rotate(-90)" class="tk" text-anchor="middle">15</text>
<line x1="24.1" y1="376.37" x2="26.5" y2="376.37" stroke="#999999" stroke-width="0.8"/>
<text transform="translate(20.7,376.37) rotate(-90)" class="tk" text-anchor="middle">20</text>
<line x1="24.1" y1="361.54" x2="26.5" y2="361.54" stroke="#999999" stroke-width="0.8"/>
<text transform="translate(20.7,361.54) rotate(-90)" class="tk" text-anchor="middle">25</text>
<line x1="24.1" y1="346.71" x2="26.5" y2="346.71" stroke="#999999" stroke-width="0.8"/>
<text transform="translate(20.7,346.71) rotate(-90)" class="tk" text-anchor="middle">30</text>
<line x1="24.1" y1="331.88" x2="26.5" y2="331.88" stroke="#999999" stroke-width="0.8"/>
<text transform="translate(20.7,331.88) rotate(-90)" class="tk" text-anchor="middle">35</text>
<line x1="24.1" y1="317.05" x2="26.5" y2="317.05" stroke="#999999" stroke-width="0.8"/>
<text transform="translate(20.7,317.05) rotate(-90)" class="tk" text-anchor="middle">40</text>
<line x1="24.1" y1="302.22" x2="26.5" y2="302.22" stroke="#999999" stroke-width="0.8"/>
<text transform="translate(20.7,302.22) rotate(-90)" class="tk" text-anchor="middle">45</text>
<line x1="24.1" y1="287.39" x2="26.5" y2="287.39" stroke="#999999" stroke-width="0.8"/>
<text transform="translate(20.7,287.39) rotate(-90)" class="tk" text-anchor="middle">50</text>
<text transform="translate(12.6,339.2) rotate(-90)" class="ax2" text-anchor="middle">Tmax (°C)</text>
<g clip-path="url(#p21a)">
<polygon points="292.2,351 311.98,347 331.76,337 351.54,324.5 371.32,310.5 391.1,297.5 410.88,292.5 430.66,294 450.44,302 470.22,318 490,334.5 509.78,347 509.78,378.1 490,367.8 470.22,352.8 450.44,336.8 430.66,328.7 410.88,326.5 391.1,332.2 371.32,347.1 351.54,360.9 331.76,372.3 311.98,379.9 292.2,383.4" fill="#f0dfee" stroke="#eaa4ba" stroke-width="0.6"/>
<polygon points="292.2,347.8 311.98,343.7 331.76,332.2 351.54,320.7 371.32,307 391.1,293.6 410.88,288.6 430.66,290.4 450.44,298.9 470.22,315 490,331 509.78,343.7 509.78,357.9 490,344.8 470.22,329.9 450.44,317.3 430.66,311 410.88,309.8 391.1,312 371.32,325 351.54,337.3 331.76,350.5 311.98,359.3 292.2,363.9" fill="#7ad8fa" stroke="#45a6dc" stroke-width="0.6"/>
<polygon points="292.2,351 311.98,347 331.76,337 351.54,324.5 371.32,310.5 391.1,297.5 410.88,292.5 430.66,294 450.44,302 470.22,318 490,334.5 509.78,347 509.78,378.1 490,367.8 470.22,352.8 450.44,336.8 430.66,328.7 410.88,326.5 391.1,332.2 371.32,347.1 351.54,360.9 331.76,372.3 311.98,379.9 292.2,383.4" fill="#6ecdf5" stroke="#80aac6" stroke-width="0.6" clip-path="url(#p21b)"/>
<polyline points="292.2,356.3 311.98,351.7 331.76,341.4 351.54,328.7 371.32,315 391.1,302.4 410.88,298.9 430.66,300.5 450.44,308.1 470.22,321.9 490,337.9 509.78,351.7" fill="none" stroke="#8c98a8" stroke-width="1.3" stroke-dasharray="4.3 2.3"/>
<polyline points="292.2,350.5 311.98,346 331.76,336.3 351.54,324.2 371.32,312.7 391.1,304.7 410.88,301.9 430.66,302.4 450.44,306.9 470.22,318.4 490,333.3 509.78,346" fill="none" stroke="#1a1a1a" stroke-width="1.1"/>
<polyline points="292.2,352.4 311.98,347.8 331.76,338.6 351.54,326.5 371.32,313.8 391.1,301.2 410.88,296.6 430.66,298.2 450.44,305.8 470.22,318.4 490,333.3 509.78,347.1" fill="none" stroke="#2a46d8" stroke-width="1.6" stroke-dasharray="4.3 2.3"/>
</g>
<rect x="283.9" y="283.4" width="40.6" height="27.7" fill="#fff" stroke="#ababab" stroke-width="0.8"/>
<line x1="289.3" y1="290.3" x2="300.1" y2="290.3" stroke="#555" stroke-width="1.4"/>
<text x="305.3" y="292.5" class="lg" textLength="15.0" lengthAdjust="spacingAndGlyphs">ERA5</text>
<line x1="289.3" y1="297.25" x2="300.1" y2="297.25" stroke="#c89296" stroke-width="1.4"/>
<text x="305.3" y="299.45" class="lg" textLength="17.3" lengthAdjust="spacingAndGlyphs">CMIP5</text>
<line x1="289.3" y1="304.2" x2="300.1" y2="304.2" stroke="#4848c8" stroke-width="1.4"/>
<text x="305.3" y="306.4" class="lg" textLength="17.3" lengthAdjust="spacingAndGlyphs">CMIP6</text>
<rect x="283.9" y="283.4" width="234.5" height="111.4" fill="none" stroke="#c8c8c8" stroke-width="0.9"/>
<text x="507.5" y="295.5" class="rl" text-anchor="end">BW</text>
<line x1="292.2" y1="394.8" x2="292.2" y2="397.8" stroke="#999999" stroke-width="0.8"/>
<text x="292.2" y="404.7" class="mo" text-anchor="middle">Jan</text>
<line x1="311.98" y1="394.8" x2="311.98" y2="397.8" stroke="#999999" stroke-width="0.8"/>
<text x="311.98" y="404.7" class="mo" text-anchor="middle">Feb</text>
<line x1="331.76" y1="394.8" x2="331.76" y2="397.8" stroke="#999999" stroke-width="0.8"/>
<text x="331.76" y="404.7" class="mo" text-anchor="middle">Mar</text>
<line x1="351.54" y1="394.8" x2="351.54" y2="397.8" stroke="#999999" stroke-width="0.8"/>
<text x="351.54" y="404.7" class="mo" text-anchor="middle">Apr</text>
<line x1="371.32" y1="394.8" x2="371.32" y2="397.8" stroke="#999999" stroke-width="0.8"/>
<text x="371.32" y="404.7" class="mo" text-anchor="middle">May</text>
<line x1="391.1" y1="394.8" x2="391.1" y2="397.8" stroke="#999999" stroke-width="0.8"/>
<text x="391.1" y="404.7" class="mo" text-anchor="middle">Jun</text>
<line x1="410.88" y1="394.8" x2="410.88" y2="397.8" stroke="#999999" stroke-width="0.8"/>
<text x="410.88" y="404.7" class="mo" text-anchor="middle">Jul</text>
<line x1="430.66" y1="394.8" x2="430.66" y2="397.8" stroke="#999999" stroke-width="0.8"/>
<text x="430.66" y="404.7" class="mo" text-anchor="middle">Aug</text>
<line x1="450.44" y1="394.8" x2="450.44" y2="397.8" stroke="#999999" stroke-width="0.8"/>
<text x="450.44" y="404.7" class="mo" text-anchor="middle">Sep</text>
<line x1="470.22" y1="394.8" x2="470.22" y2="397.8" stroke="#999999" stroke-width="0.8"/>
<text x="470.22" y="404.7" class="mo" text-anchor="middle">Oct</text>
<line x1="490" y1="394.8" x2="490" y2="397.8" stroke="#999999" stroke-width="0.8"/>
<text x="490" y="404.7" class="mo" text-anchor="middle">Nov</text>
<line x1="509.78" y1="394.8" x2="509.78" y2="397.8" stroke="#999999" stroke-width="0.8"/>
<text x="509.78" y="404.7" class="mo" text-anchor="middle">Dec</text>
<text x="401.15" y="412.9" class="ax" text-anchor="middle">Month</text>
<line x1="281.5" y1="390.55" x2="283.9" y2="390.55" stroke="#999999" stroke-width="0.8"/>
<text transform="translate(278.1,390.55) rotate(-90)" class="tk" text-anchor="middle">-5</text>
<line x1="281.5" y1="375.7" x2="283.9" y2="375.7" stroke="#999999" stroke-width="0.8"/>
<text transform="translate(278.1,375.7) rotate(-90)" class="tk" text-anchor="middle">0</text>
<line x1="281.5" y1="360.85" x2="283.9" y2="360.85" stroke="#999999" stroke-width="0.8"/>
<text transform="translate(278.1,360.85) rotate(-90)" class="tk" text-anchor="middle">5</text>
<line x1="281.5" y1="346" x2="283.9" y2="346" stroke="#999999" stroke-width="0.8"/>
<text transform="translate(278.1,346) rotate(-90)" class="tk" text-anchor="middle">10</text>
<line x1="281.5" y1="331.15" x2="283.9" y2="331.15" stroke="#999999" stroke-width="0.8"/>
<text transform="translate(278.1,331.15) rotate(-90)" class="tk" text-anchor="middle">15</text>
<line x1="281.5" y1="316.3" x2="283.9" y2="316.3" stroke="#999999" stroke-width="0.8"/>
<text transform="translate(278.1,316.3) rotate(-90)" class="tk" text-anchor="middle">20</text>
<line x1="281.5" y1="301.45" x2="283.9" y2="301.45" stroke="#999999" stroke-width="0.8"/>
<text transform="translate(278.1,301.45) rotate(-90)" class="tk" text-anchor="middle">25</text>
<line x1="281.5" y1="286.6" x2="283.9" y2="286.6" stroke="#999999" stroke-width="0.8"/>
<text transform="translate(278.1,286.6) rotate(-90)" class="tk" text-anchor="middle">30</text>
<text transform="translate(269.1,339.2) rotate(-90)" class="ax2" text-anchor="middle">Tmin (°C)</text>
<g clip-path="url(#p30a)">
<polygon points="35.3,495.8 55.07,488.9 74.84,474.7 94.61,461 114.38,450.5 134.15,441 153.92,433.4 173.69,435.7 193.46,449.4 213.23,462.5 233,482.7 252.77,494.2 252.77,505.6 233,497.6 213.23,480.4 193.46,466.6 173.69,455.5 153.92,455 134.15,462 114.38,472.5 94.61,485.5 74.84,495 55.07,505 35.3,510" fill="#f0dfee" stroke="#eaa4ba" stroke-width="0.6"/>
<polygon points="35.3,499.4 55.07,493 74.84,481.5 94.61,468.9 114.38,451.7 134.15,436.8 153.92,426.5 173.69,429.9 193.46,444.8 213.23,463.2 233,481.5 252.77,494.2 252.77,507.9 233,495.3 213.23,477 193.46,464.3 173.69,456.3 153.92,455.8 134.15,463.2 114.38,474.7 94.61,488.4 74.84,497.6 55.07,507.9 35.3,512.5" fill="#7ad8fa" stroke="#45a6dc" stroke-width="0.6"/>
<polygon points="35.3,495.8 55.07,488.9 74.84,474.7 94.61,461 114.38,450.5 134.15,441 153.92,433.4 173.69,435.7 193.46,449.4 213.23,462.5 233,482.7 252.77,494.2 252.77,505.6 233,497.6 213.23,480.4 193.46,466.6 173.69,455.5 153.92,455 134.15,462 114.38,472.5 94.61,485.5 74.84,495 55.07,505 35.3,510" fill="#6ecdf5" stroke="#80aac6" stroke-width="0.6" clip-path="url(#p30b)"/>
<polyline points="35.3,502.2 55.07,496.5 74.84,487.3 94.61,480.4 114.38,468 134.15,455 153.92,447 173.69,447.5 193.46,457 213.23,471 233,488 252.77,502" fill="none" stroke="#8c98a8" stroke-width="1.3" stroke-dasharray="4.3 2.3"/>
<polyline points="35.3,503.3 55.07,501.7 74.84,495.3 94.61,488 114.38,475.8 134.15,465.5 153.92,456.3 173.69,456.3 193.46,464.3 213.23,477 233,491.5 252.77,500.4" fill="none" stroke="#1a1a1a" stroke-width="1.1"/>
<polyline points="35.3,506.3 55.07,501 74.84,490.7 94.61,482.7 114.38,467.8 134.15,454.5 153.92,445.3 173.69,446 193.46,457.5 213.23,473.5 233,490 252.77,503.3" fill="none" stroke="#2a46d8" stroke-width="1.6" stroke-dasharray="4.3 2.3"/>
</g>
<rect x="26.5" y="415.5" width="40.6" height="27.7" fill="#fff" stroke="#ababab" stroke-width="0.8"/>
<line x1="31.9" y1="422.4" x2="42.7" y2="422.4" stroke="#555" stroke-width="1.4"/>
<text x="47.9" y="424.6" class="lg" textLength="15.0" lengthAdjust="spacingAndGlyphs">ERA5</text>
<line x1="31.9" y1="429.35" x2="42.7" y2="429.35" stroke="#c89296" stroke-width="1.4"/>
<text x="47.9" y="431.55" class="lg" textLength="17.3" lengthAdjust="spacingAndGlyphs">CMIP5</text>
<line x1="31.9" y1="436.3" x2="42.7" y2="436.3" stroke="#4848c8" stroke-width="1.4"/>
<text x="47.9" y="438.5" class="lg" textLength="17.3" lengthAdjust="spacingAndGlyphs">CMIP6</text>
<rect x="26.5" y="415.5" width="235" height="110.9" fill="none" stroke="#c8c8c8" stroke-width="0.9"/>
<text x="250.6" y="427.6" class="rl" text-anchor="end">C</text>
<line x1="35.3" y1="526.4" x2="35.3" y2="529.4" stroke="#999999" stroke-width="0.8"/>
<text x="35.3" y="536.4" class="mo" text-anchor="middle">Jan</text>
<line x1="55.07" y1="526.4" x2="55.07" y2="529.4" stroke="#999999" stroke-width="0.8"/>
<text x="55.07" y="536.4" class="mo" text-anchor="middle">Feb</text>
<line x1="74.84" y1="526.4" x2="74.84" y2="529.4" stroke="#999999" stroke-width="0.8"/>
<text x="74.84" y="536.4" class="mo" text-anchor="middle">Mar</text>
<line x1="94.61" y1="526.4" x2="94.61" y2="529.4" stroke="#999999" stroke-width="0.8"/>
<text x="94.61" y="536.4" class="mo" text-anchor="middle">Apr</text>
<line x1="114.38" y1="526.4" x2="114.38" y2="529.4" stroke="#999999" stroke-width="0.8"/>
<text x="114.38" y="536.4" class="mo" text-anchor="middle">May</text>
<line x1="134.15" y1="526.4" x2="134.15" y2="529.4" stroke="#999999" stroke-width="0.8"/>
<text x="134.15" y="536.4" class="mo" text-anchor="middle">Jun</text>
<line x1="153.92" y1="526.4" x2="153.92" y2="529.4" stroke="#999999" stroke-width="0.8"/>
<text x="153.92" y="536.4" class="mo" text-anchor="middle">Jul</text>
<line x1="173.69" y1="526.4" x2="173.69" y2="529.4" stroke="#999999" stroke-width="0.8"/>
<text x="173.69" y="536.4" class="mo" text-anchor="middle">Aug</text>
<line x1="193.46" y1="526.4" x2="193.46" y2="529.4" stroke="#999999" stroke-width="0.8"/>
<text x="193.46" y="536.4" class="mo" text-anchor="middle">Sep</text>
<line x1="213.23" y1="526.4" x2="213.23" y2="529.4" stroke="#999999" stroke-width="0.8"/>
<text x="213.23" y="536.4" class="mo" text-anchor="middle">Oct</text>
<line x1="233" y1="526.4" x2="233" y2="529.4" stroke="#999999" stroke-width="0.8"/>
<text x="233" y="536.4" class="mo" text-anchor="middle">Nov</text>
<line x1="252.77" y1="526.4" x2="252.77" y2="529.4" stroke="#999999" stroke-width="0.8"/>
<text x="252.77" y="536.4" class="mo" text-anchor="middle">Dec</text>
<text x="144" y="544.6" class="ax" text-anchor="middle">Month</text>
<line x1="24.1" y1="510" x2="26.5" y2="510" stroke="#999999" stroke-width="0.8"/>
<text transform="translate(20.7,510) rotate(-90)" class="tk" text-anchor="middle">10</text>
<line x1="24.1" y1="484.2" x2="26.5" y2="484.2" stroke="#999999" stroke-width="0.8"/>
<text transform="translate(20.7,484.2) rotate(-90)" class="tk" text-anchor="middle">20</text>
<line x1="24.1" y1="458.4" x2="26.5" y2="458.4" stroke="#999999" stroke-width="0.8"/>
<text transform="translate(20.7,458.4) rotate(-90)" class="tk" text-anchor="middle">30</text>
<line x1="24.1" y1="432.6" x2="26.5" y2="432.6" stroke="#999999" stroke-width="0.8"/>
<text transform="translate(20.7,432.6) rotate(-90)" class="tk" text-anchor="middle">40</text>
<text transform="translate(12.6,471.05) rotate(-90)" class="ax2" text-anchor="middle">Tmax (°C)</text>
<g clip-path="url(#p31a)">
<polygon points="292.2,477 311.98,475 331.76,468 351.54,458.5 371.32,446 391.1,432 410.88,424.2 430.66,425.3 450.44,435.5 470.22,449.5 490,463.5 509.78,474 509.78,504.5 490,498 470.22,486.5 450.44,475.1 430.66,467.3 410.88,464.3 391.1,468.9 371.32,480.4 351.54,491.9 331.76,502.2 311.98,507.9 292.2,509.1" fill="#f0dfee" stroke="#eaa4ba" stroke-width="0.6"/>
<polygon points="292.2,474.7 311.98,472.4 331.76,465.9 351.54,457.5 371.32,444.4 391.1,428.3 410.88,416.8 430.66,418.4 450.44,428.8 470.22,444.8 490,459.7 509.78,471.2 509.78,483.4 490,472.4 470.22,458.6 450.44,444.8 430.66,436.8 410.88,436.1 391.1,446 371.32,459.7 351.54,471.2 331.76,478.8 311.98,483.8 292.2,488" fill="#7ad8fa" stroke="#45a6dc" stroke-width="0.6"/>
<polygon points="292.2,477 311.98,475 331.76,468 351.54,458.5 371.32,446 391.1,432 410.88,424.2 430.66,425.3 450.44,435.5 470.22,449.5 490,463.5 509.78,474 509.78,504.5 490,498 470.22,486.5 450.44,475.1 430.66,467.3 410.88,464.3 391.1,468.9 371.32,480.4 351.54,491.9 331.76,502.2 311.98,507.9 292.2,509.1" fill="#6ecdf5" stroke="#80aac6" stroke-width="0.6" clip-path="url(#p31b)"/>
<polyline points="292.2,479.5 311.98,477 331.76,469.5 351.54,460.4 371.32,448.3 391.1,435.7 410.88,429.2 430.66,430.6 450.44,438 470.22,451.7 490,465 509.78,475.8" fill="none" stroke="#8c98a8" stroke-width="1.3" stroke-dasharray="4.3 2.3"/>
<polyline points="292.2,481.1 311.98,478.8 331.76,472.8 351.54,465 371.32,454 391.1,442.1 410.88,435.2 430.66,435.7 450.44,442.5 470.22,454 490,466.6 509.78,477" fill="none" stroke="#1a1a1a" stroke-width="1.1"/>
<polyline points="292.2,480.4 311.98,478.1 331.76,471.2 351.54,462.7 371.32,451.7 391.1,439.1 410.88,431.5 430.66,432.2 450.44,440.2 470.22,454 490,466.6 509.78,477" fill="none" stroke="#2a46d8" stroke-width="1.6" stroke-dasharray="4.3 2.3"/>
</g>
<rect x="283.9" y="415.5" width="40.6" height="27.7" fill="#fff" stroke="#ababab" stroke-width="0.8"/>
<line x1="289.3" y1="422.4" x2="300.1" y2="422.4" stroke="#555" stroke-width="1.4"/>
<text x="305.3" y="424.6" class="lg" textLength="15.0" lengthAdjust="spacingAndGlyphs">ERA5</text>
<line x1="289.3" y1="429.35" x2="300.1" y2="429.35" stroke="#c89296" stroke-width="1.4"/>
<text x="305.3" y="431.55" class="lg" textLength="17.3" lengthAdjust="spacingAndGlyphs">CMIP5</text>
<line x1="289.3" y1="436.3" x2="300.1" y2="436.3" stroke="#4848c8" stroke-width="1.4"/>
<text x="305.3" y="438.5" class="lg" textLength="17.3" lengthAdjust="spacingAndGlyphs">CMIP6</text>
<rect x="283.9" y="415.5" width="234.5" height="110.9" fill="none" stroke="#c8c8c8" stroke-width="0.9"/>
<text x="507.5" y="427.6" class="rl" text-anchor="end">C</text>
<line x1="292.2" y1="526.4" x2="292.2" y2="529.4" stroke="#999999" stroke-width="0.8"/>
<text x="292.2" y="536.4" class="mo" text-anchor="middle">Jan</text>
<line x1="311.98" y1="526.4" x2="311.98" y2="529.4" stroke="#999999" stroke-width="0.8"/>
<text x="311.98" y="536.4" class="mo" text-anchor="middle">Feb</text>
<line x1="331.76" y1="526.4" x2="331.76" y2="529.4" stroke="#999999" stroke-width="0.8"/>
<text x="331.76" y="536.4" class="mo" text-anchor="middle">Mar</text>
<line x1="351.54" y1="526.4" x2="351.54" y2="529.4" stroke="#999999" stroke-width="0.8"/>
<text x="351.54" y="536.4" class="mo" text-anchor="middle">Apr</text>
<line x1="371.32" y1="526.4" x2="371.32" y2="529.4" stroke="#999999" stroke-width="0.8"/>
<text x="371.32" y="536.4" class="mo" text-anchor="middle">May</text>
<line x1="391.1" y1="526.4" x2="391.1" y2="529.4" stroke="#999999" stroke-width="0.8"/>
<text x="391.1" y="536.4" class="mo" text-anchor="middle">Jun</text>
<line x1="410.88" y1="526.4" x2="410.88" y2="529.4" stroke="#999999" stroke-width="0.8"/>
<text x="410.88" y="536.4" class="mo" text-anchor="middle">Jul</text>
<line x1="430.66" y1="526.4" x2="430.66" y2="529.4" stroke="#999999" stroke-width="0.8"/>
<text x="430.66" y="536.4" class="mo" text-anchor="middle">Aug</text>
<line x1="450.44" y1="526.4" x2="450.44" y2="529.4" stroke="#999999" stroke-width="0.8"/>
<text x="450.44" y="536.4" class="mo" text-anchor="middle">Sep</text>
<line x1="470.22" y1="526.4" x2="470.22" y2="529.4" stroke="#999999" stroke-width="0.8"/>
<text x="470.22" y="536.4" class="mo" text-anchor="middle">Oct</text>
<line x1="490" y1="526.4" x2="490" y2="529.4" stroke="#999999" stroke-width="0.8"/>
<text x="490" y="536.4" class="mo" text-anchor="middle">Nov</text>
<line x1="509.78" y1="526.4" x2="509.78" y2="529.4" stroke="#999999" stroke-width="0.8"/>
<text x="509.78" y="536.4" class="mo" text-anchor="middle">Dec</text>
<text x="401.15" y="544.6" class="ax" text-anchor="middle">Month</text>
<line x1="281.5" y1="522.1" x2="283.9" y2="522.1" stroke="#999999" stroke-width="0.8"/>
<text transform="translate(278.1,522.1) rotate(-90)" class="tk" text-anchor="middle">-10</text>
<line x1="281.5" y1="507.4" x2="283.9" y2="507.4" stroke="#999999" stroke-width="0.8"/>
<text transform="translate(278.1,507.4) rotate(-90)" class="tk" text-anchor="middle">-5</text>
<line x1="281.5" y1="492.7" x2="283.9" y2="492.7" stroke="#999999" stroke-width="0.8"/>
<text transform="translate(278.1,492.7) rotate(-90)" class="tk" text-anchor="middle">0</text>
<line x1="281.5" y1="478" x2="283.9" y2="478" stroke="#999999" stroke-width="0.8"/>
<text transform="translate(278.1,478) rotate(-90)" class="tk" text-anchor="middle">5</text>
<line x1="281.5" y1="463.3" x2="283.9" y2="463.3" stroke="#999999" stroke-width="0.8"/>
<text transform="translate(278.1,463.3) rotate(-90)" class="tk" text-anchor="middle">10</text>
<line x1="281.5" y1="448.6" x2="283.9" y2="448.6" stroke="#999999" stroke-width="0.8"/>
<text transform="translate(278.1,448.6) rotate(-90)" class="tk" text-anchor="middle">15</text>
<line x1="281.5" y1="433.9" x2="283.9" y2="433.9" stroke="#999999" stroke-width="0.8"/>
<text transform="translate(278.1,433.9) rotate(-90)" class="tk" text-anchor="middle">20</text>
<line x1="281.5" y1="419.2" x2="283.9" y2="419.2" stroke="#999999" stroke-width="0.8"/>
<text transform="translate(278.1,419.2) rotate(-90)" class="tk" text-anchor="middle">25</text>
<text transform="translate(269.1,471.05) rotate(-90)" class="ax2" text-anchor="middle">Tmin (°C)</text>
</svg>
<svg width="523" height="550" viewBox="0 0 523 550">
<text x="41.99" y="16.8" class="ti" textLength="37.28" lengthAdjust="spacingAndGlyphs">Max.</text>
<text x="84.2" y="16.8" class="ti" textLength="103.1" lengthAdjust="spacingAndGlyphs">Temperature</text>
<text x="193.93" y="16.8" class="ti" textLength="33.63" lengthAdjust="spacingAndGlyphs">(°C)</text>
<text x="299.52" y="16.8" class="ti" textLength="34.02" lengthAdjust="spacingAndGlyphs">Min.</text>
<text x="339.1" y="16.8" class="ti" textLength="101.49" lengthAdjust="spacingAndGlyphs">Temperature</text>
<text x="445.87" y="16.8" class="ti" textLength="35.35" lengthAdjust="spacingAndGlyphs">(°C)</text>
</svg>
</body></html>
